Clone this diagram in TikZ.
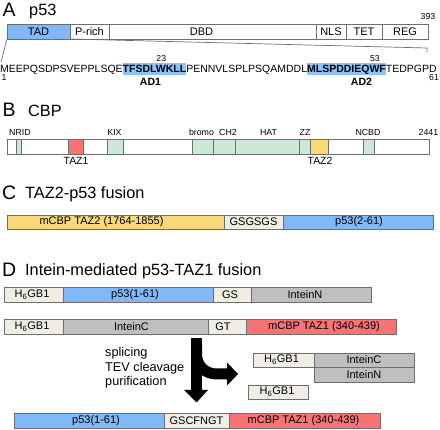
\documentclass[tikz,border=0pt]{standalone}
\usepackage{fontspec}
\setmainfont{Liberation Sans}
\definecolor{pblue}{HTML}{80B8F8}
\definecolor{hlblue}{HTML}{8EC2F4}
\definecolor{pyellow}{HTML}{F9D877}
\definecolor{pred}{HTML}{F87474}
\definecolor{pgray}{HTML}{BFBFBF}
\definecolor{poff}{HTML}{F0EEE4}
\definecolor{pgreen}{HTML}{CDE7D6}
\definecolor{edgegray}{HTML}{6E6E6E}
\tikzset{
  segbox/.style={draw=edgegray, line width=0.8pt, inner sep=0pt, outer sep=0pt, anchor=north west},
  seglbl/.style={inner sep=0pt, font=\fontsize{11}{13}\selectfont},
  paneltag/.style={anchor=base west, inner sep=0pt, font=\fontsize{19.5}{22}\selectfont},
  paneltitle/.style={anchor=base west, inner sep=0pt, font=\fontsize{16.3}{19}\selectfont},
  smallnum/.style={anchor=base, inner sep=0pt, font=\fontsize{8.7}{10}\selectfont},
  domlbl/.style={anchor=base, inner sep=0pt, font=\fontsize{8.8}{10}\selectfont},
  tazlbl/.style={anchor=base, inner sep=0pt, font=\fontsize{10.4}{12}\selectfont},
  zoomline/.style={draw=edgegray, line width=0.7pt},
  steptext/.style={anchor=base west, inner sep=0pt, font=\fontsize{12.7}{14}\selectfont}
}
% \segx{name}{x1}{y1}{x2}{y2}{fill}
\newcommand\segx[6]{\node[segbox, fill=#6, minimum width={(#4-#2)*1pt}, minimum height={(#5-#3)*1pt}] (#1) at (#2,#3) {};}
% \segt{name}{x1}{y1}{x2}{y2}{fill}{text}{xshift}
\newcommand\segt[8]{\segx{#1}{#2}{#3}{#4}{#5}{#6}\node[seglbl] (#1t) at ([xshift=#8pt]#1.center) {#7};}
\newcommand\hlseq[1]{{\setlength{\fboxsep}{0pt}\colorbox{hlblue}{\vrule width 0pt height 10pt depth 1.7pt\textbf{#1}}}}
\begin{document}
\begin{tikzpicture}[x=1pt,y=-1pt]
\useasboundingbox (0,0) rectangle (440,430);
% ---------- A ----------
\node[paneltag] (tA) at (2.5,17) {A};
\node[paneltitle] (ttA) at (29,16) {p53};
\segt{tad}{7}{24.5}{70}{39}{pblue}{TAD}{0}
\segt{prich}{70}{24.5}{109}{39}{white}{P-rich}{0}
\segt{dbd}{109}{24.5}{316}{39}{white}{DBD}{-11}
\segt{nls}{316}{24.5}{346}{39}{white}{NLS}{0}
\segt{tet}{346}{24.5}{382}{39}{white}{TET}{0}
\segt{reg}{382}{24.5}{428}{39}{white}{REG}{0}
\node[smallnum] (n393) at (428,20) {393};
\coordinate (s1) at (1,62);
\coordinate (s2) at (427,48);
\coordinate (s3) at (427,52.5);
\draw[zoomline] (tad.south west) -- (s1);
\draw[zoomline] (tad.south east) -- (s2) -- (s3);
\node[anchor=base west, inner sep=0pt, font=\fontsize{10.5}{12}\selectfont] (seq) at (0,73)
  {MEEPQSDPSVEPPLSQE\hlseq{TFSDLWKLL}PENNVLSPLPSQAMDDL\hlseq{MLSPDDIEQWF}TEDPGPD};
\node[smallnum] (n23) at (161.3,62) {23};
\node[smallnum] (n53) at (375,62) {53};
\node[smallnum] (n1) at (4,81) {1};
\node[smallnum] (n61) at (434,81) {61};
\node[anchor=base, inner sep=0pt, font=\fontsize{10.5}{12}\selectfont\bfseries] (ad1) at (150.5,85.5) {AD1};
\node[anchor=base, inner sep=0pt, font=\fontsize{10.5}{12}\selectfont\bfseries] (ad2) at (361.5,85.5) {AD2};
% ---------- B ----------
\node[paneltag] (tB) at (2.5,117) {B};
\node[paneltitle] (ttB) at (28,116.5) {CBP};
\segx{cbp}{7}{139}{429}{154}{white}
\segx{nrid}{16}{139}{21}{154}{pgreen}
\segx{taz1}{68}{139}{83}{154}{pred}
\segx{kix}{107}{139}{123}{154}{pgreen}
\segx{bromo}{192}{139}{213}{154}{pgreen}
\segx{chtwo}{213}{139}{235}{154}{pgreen}
\segx{hat}{235}{139}{299}{154}{pgreen}
\segx{zz}{299}{139}{310}{154}{pgreen}
\segx{taz2}{310}{139}{328}{154}{pyellow}
\segx{ncbd}{363}{139}{374}{154}{pgreen}
\node[domlbl] (lnrid) at (20,136) {NRID};
\node[domlbl] (lkix) at (114.5,136) {KIX};
\node[domlbl] (lbromo) at (201.5,136) {bromo};
\node[domlbl] (lch2) at (228,136) {CH2};
\node[domlbl] (lhat) at (268.5,136) {HAT};
\node[domlbl] (lzz) at (305,136) {ZZ};
\node[domlbl] (lncbd) at (368,136) {NCBD};
\node[domlbl] (l2441) at (428.5,136) {2441};
\node[tazlbl] (ltaz1) at (76,165) {TAZ1};
\node[tazlbl] (ltaz2) at (320,165) {TAZ2};
% ---------- C ----------
\node[paneltag] (tC) at (2,199.5) {C};
\node[paneltitle] (ttC) at (25,199) {TAZ2-p53 fusion};
\segt{ctaz}{7}{215}{224}{229}{pyellow}{mCBP TAZ2 (1764-1855)}{-14}
\segt{cgs}{224}{215}{283}{229}{poff}{GSGSGS}{0}
\segt{cp53}{283}{215}{433}{229}{pblue}{p53(2-61)}{1}
% ---------- D ----------
\node[paneltag] (tD) at (2,276.5) {D};
\node[paneltitle] (ttD) at (25,276) {Intein-mediated p53-TAZ1 fusion};
\segt{dh1}{4}{287}{63}{302}{poff}{H\textsubscript{6}GB1}{-1.5}
\segt{dp53}{63}{287}{213}{302}{pblue}{p53(1-61)}{-3}
\segt{dgs}{213}{287}{251}{302}{poff}{GS}{-2}
\segt{dinn}{251}{287}{371}{302}{pgray}{InteinN}{-6}
\segt{dh2}{4}{319}{63}{334}{poff}{H\textsubscript{6}GB1}{-1.5}
\segt{dinc}{63}{319}{208}{334}{pgray}{InteinC}{-4}
\segt{dgt}{208}{319}{246}{334}{poff}{GT}{-4}
\segt{dtaz1}{246}{319}{396}{334}{pred}{mCBP TAZ1 (340-439)}{3}
% arrow
\fill[black] (191,338) rectangle (202,390.5);
\fill[black] (184,390) -- (208,390) -- (196.5,402.5) -- cycle;
\draw[black, line width=11pt] (196.5,345) -- (196.5,354) .. controls (196.5,366) and (205.5,374) .. (216.5,374) -- (228,374);
\fill[black] (227,362.5) -- (238,374) -- (227,385.5) -- cycle;
\node[steptext] (st1) at (105,357) {splicing};
\node[steptext] (st2) at (105,371.5) {TEV cleavage};
\node[steptext] (st3) at (105,386) {purification};
% by-products
\segt{rh1}{253}{353}{314}{367}{poff}{H\textsubscript{6}GB1}{-2}
\segt{rinc}{314}{353}{414}{367}{pgray}{InteinC}{0}
\segt{rinn}{314}{367}{414}{382}{pgray}{InteinN}{0}
\segt{rh2}{248}{385}{308}{399}{poff}{H\textsubscript{6}GB1}{-1}
% product
\segt{fp53}{14}{413}{164}{428}{pblue}{p53(1-61)}{7}
\segt{fgs}{164}{413}{229}{428}{poff}{GSCFNGT}{0}
\segt{ftaz1}{229}{413}{380}{428}{pred}{mCBP TAZ1 (340-439)}{-1}
\end{tikzpicture}
\end{document}
